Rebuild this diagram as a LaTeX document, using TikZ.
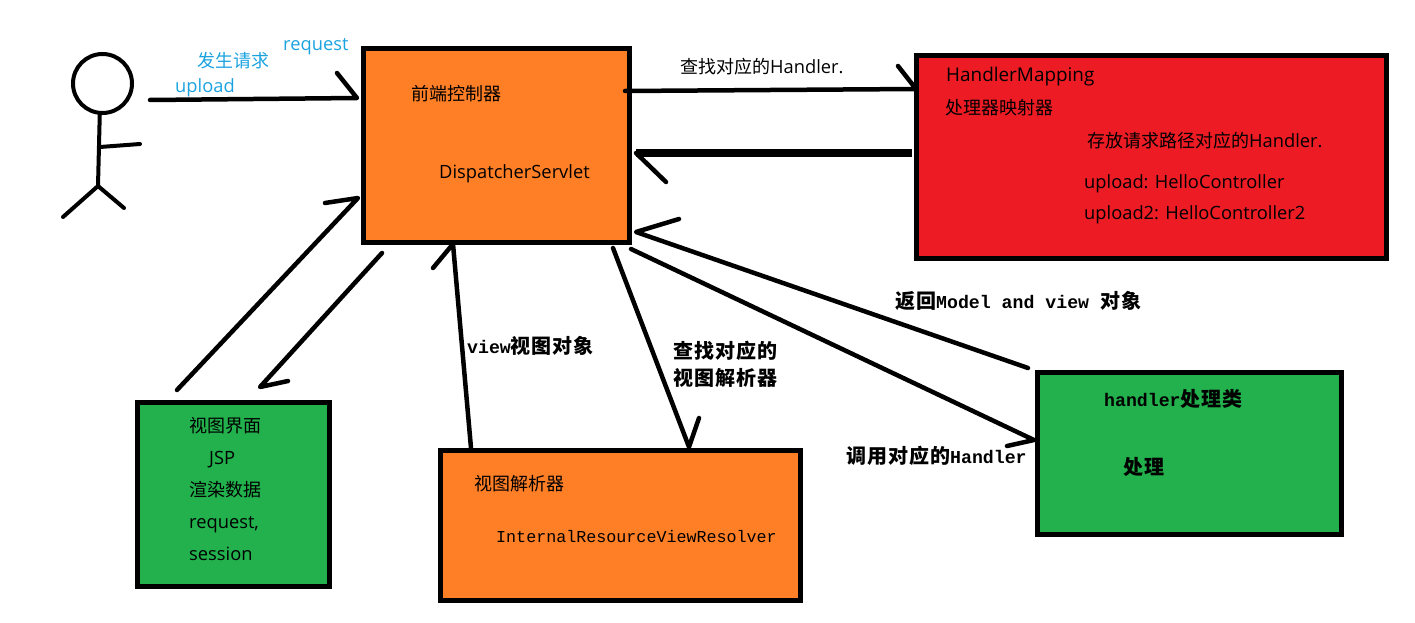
\documentclass[tikz,border=0pt]{standalone}
\usepackage{fontspec}
\setmainfont{Open Sans}
\setmonofont{Liberation Mono}
\newfontfamily\zhfont{Noto Sans CJK SC}
\newfontfamily\zhbold[LetterSpace=5]{Noto Sans CJK SC Bold}
\newcommand{\zh}[1]{{\zhfont\fontsize{18}{18}\selectfont #1}}
\newcommand{\zhb}[1]{{\zhbold\fontsize{20}{20}\selectfont #1}}
\definecolor{boxorange}{HTML}{FF7F27}
\definecolor{boxred}{HTML}{ED1C24}
\definecolor{boxgreen}{HTML}{22B14C}
\definecolor{labelblue}{HTML}{1CA3DF}
\begin{document}
\begin{tikzpicture}[
  x=1pt,y=-1pt,
  mybox/.style={draw,line width=5pt,inner sep=0pt,outer sep=0pt},
  myline/.style={line width=4.5pt,line cap=round,line join=round},
  stickline/.style={line width=4pt,line cap=round,line join=round},
  mytext/.style={anchor=base west,inner sep=0pt,font=\fontsize{18.3}{18.3}\selectfont},
  bluetext/.style={mytext,text=labelblue},
  boldtext/.style={anchor=base west,inner sep=0pt,font=\fontsize{18.2}{18.2}\selectfont\ttfamily\bfseries}
]
\useasboundingbox (0,0) rectangle (1415,623);

% boxes
\node[mybox,fill=boxorange,minimum width=266pt,minimum height=193pt] (front) at (496,145.5) {};
\node[mybox,fill=boxred,minimum width=470pt,minimum height=202pt] (mapping) at (1151,157) {};
\node[mybox,fill=boxgreen,minimum width=192pt,minimum height=184pt] (page) at (233,494) {};
\node[mybox,fill=boxorange,minimum width=360pt,minimum height=150pt] (resolver) at (620,525) {};
\node[mybox,fill=boxgreen,minimum width=304pt,minimum height=162pt] (handler) at (1189,453) {};

% stick man
\node[draw,circle,line width=4pt,minimum size=59pt,inner sep=0pt] (head) at (102.5,83.5) {};
\coordinate (hip) at (98,186);
\coordinate (armstart) at (100,147);
\coordinate (armend) at (140,144);
\coordinate (footl) at (63,217);
\coordinate (footr) at (124,208);
\draw[stickline] (head.265) -- (hip);
\draw[stickline] (armstart) -- (armend);
\draw[stickline] (footl) -- (hip) -- (footr);

% ends of the arrows
\coordinate (userout) at (150,100);
\coordinate (frontin) at (357,98);
\coordinate (frontinb) at (337,73);
\coordinate (frontout) at (625,91);
\coordinate (mapin) at (916,89);
\coordinate (mapinb) at (898,66);
\coordinate (mapout) at (912,153);
\coordinate (frontback) at (636,153);
\coordinate (frontbackb) at (666,182);
\coordinate (handlerout) at (1028,368);
\coordinate (frontret) at (636,232);
\coordinate (frontretb) at (679,219);
\coordinate (frontcall) at (631,249);
\coordinate (handlerin) at (1034,440);
\coordinate (handlerinb) at (1007,446);
\coordinate (frontfind) at (613,248);
\coordinate (resolverin) at (689,447);
\coordinate (resolverinb) at (699,418);
\coordinate (resolverout) at (471,448);
\coordinate (frontview) at (453,244);
\coordinate (frontviewb) at (433,268);
\coordinate (pageout) at (177,390);
\coordinate (frontpage) at (358,198);
\coordinate (frontpageb) at (325,203);
\coordinate (frontrender) at (382,253);
\coordinate (pagein) at (260,387);
\coordinate (pageinb) at (288,381);

\draw[myline] (userout) -- (frontin) -- (frontinb);
\draw[myline] (frontout) -- (mapin) -- (mapinb);
\draw[line width=7.5pt] (mapout) -- (frontback);
\draw[myline] (frontback) -- (frontbackb);
\draw[myline] (handlerout) -- (frontret) -- (frontretb);
\draw[myline] (frontcall) -- (handlerin) -- (handlerinb);
\draw[myline] (frontfind) -- (resolverin) -- (resolverinb);
\draw[myline] (resolverout) -- (frontview) -- (frontviewb);
\draw[myline] (pageout) -- (frontpage) -- (frontpageb);
\draw[myline] (frontrender) -- (pagein) -- (pageinb);

% labels
\node[bluetext] (lrequest) at (283,51) {request};
\node[bluetext] (lsend) at (197,68) {\zh{发生请求}};
\node[bluetext] (lupload) at (175,93) {upload};
\node[mytext] (lfront) at (411,101) {\zh{前端控制器}};
\node[mytext] (lservlet) at (439,178) {DispatcherServlet};
\node[mytext] (lfind) at (680,74) {\zh{查找对应的}Handler.};
\node[mytext,font=\fontsize{18.9}{18.9}\selectfont] (lmapping) at (946,82) {HandlerMapping};
\node[mytext] (lmapzh) at (945,114) {\zh{处理器映射器}};
\node[mytext] (lstore) at (1087,147) {\zh{存放请求路径对应的}Handler.};
\node[mytext] (lentry) at (1084,188) {upload: HelloController};
\node[mytext] (lentryb) at (1084,219) {upload2: HelloController2};
\node[boldtext] (lreturn) at (895,308) {\zhb{返回}Model and view \zhb{对象}};
\node[boldtext] (lview) at (467,353) {view\zhb{视图对象}};
\node[boldtext] (lfinda) at (673,358) {\zhb{查找对应的}};
\node[boldtext] (lfindb) at (673,385) {\zhb{视图解析器}};
\node[boldtext] (lcall) at (846,463) {\zhb{调用对应的}Handler};
\node[boldtext] (lhandler) at (1104,406) {handler\zhb{处理类}};
\node[boldtext] (lwork) at (1123,474) {\zhb{处理}};
\node[mytext] (lpage) at (189,432) {\zh{视图界面}};
\node[mytext] (ljsp) at (209,464) {JSP};
\node[mytext] (lrender) at (189,496) {\zh{渲染数据}};
\node[mytext] (lreq) at (189,528) {request,};
\node[mytext] (lsession) at (189,560) {session};
\node[mytext] (lresolver) at (474,490) {\zh{视图解析器}};
\node[mytext,font=\fontsize{16.7}{16.7}\selectfont\ttfamily] (lclass) at (496,542) {InternalResourceViewResolver};
\end{tikzpicture}
\end{document}
